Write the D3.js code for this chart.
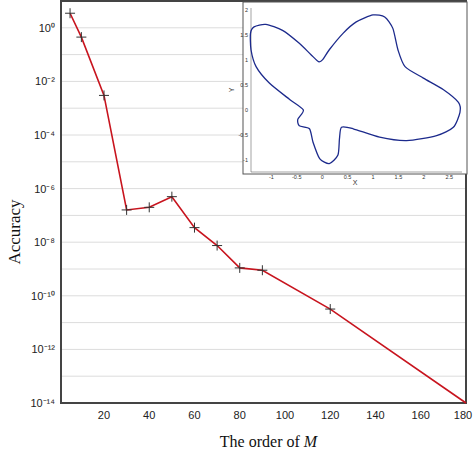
<!DOCTYPE html>
<html><head><meta charset="utf-8">
<script src="https://cdn.jsdelivr.net/npm/d3@7"></script>
<style>body{margin:0;background:#fff}</style>
</head><body>
<svg id="c" width="474" height="453"></svg>
<script>
// main curve
const orders = [5, 10, 20, 30, 40, 50, 60, 70, 80, 90, 120, 180];
const accuracy = [3.5, 0.45, 3e-3, 1.6e-7, 2e-7, 5e-7, 3.5e-8, 7.5e-9, 1.1e-9, 9e-10, 3.2e-11, 1e-14];
const marked = [5, 10, 20, 30, 40, 50, 60, 70, 80, 90, 120];
const xTicks = [20, 40, 60, 80, 100, 120, 140, 160, 180];
const yTickExp = [0, -2, -4, -6, -8, -10, -12, -14];

// inset boundary shape
const shapeX = [-1.41,-1.34,-1.11,-0.78,-0.45,-0.22,-0.07,0.01,0.14,0.41,0.67,1.0,1.23,1.39,1.49,1.63,1.99,2.38,2.68,2.71,2.58,2.25,1.66,1.13,0.61,0.38,0.34,0.31,0.14,-0.05,-0.18,-0.25,-0.45,-0.48,-0.37,-0.64,-1.04,-1.30,-1.40];
const shapeY = [1.54,1.67,1.72,1.60,1.34,1.11,0.97,1.01,1.21,1.54,1.77,1.91,1.87,1.64,1.21,0.87,0.64,0.41,0.15,-0.05,-0.35,-0.52,-0.62,-0.55,-0.38,-0.35,-0.58,-0.91,-1.08,-0.98,-0.65,-0.38,-0.32,-0.19,0.0,0.21,0.54,0.87,1.21];
const insetXTicks = [-1, -0.5, 0, 0.5, 1, 1.5, 2, 2.5];
const insetYTicks = [-1, -0.5, 0, 0.5, 1, 1.5, 2];

const svg = d3.select("#c");
const L = 61, R = 466, T = 1, B = 403;
const x = d3.scaleLinear().domain([1, 180]).range([L, R]);
const y = d3.scaleLog().domain([1e-14, 10]).range([B, T]);

// grid
svg.append("g").selectAll("line").data(d3.range(-14, 1)).join("line")
  .attr("x1", L).attr("x2", R)
  .attr("y1", d => y(Math.pow(10, d))).attr("y2", d => y(Math.pow(10, d)))
  .attr("stroke", "#dcdcdc").attr("stroke-width", 1);

const sup = "⁰¹²³⁴⁵⁶⁷⁸⁹";
const supNum = e => (e < 0 ? "⁻" : "") + String(Math.abs(e)).split("").map(c => sup[+c]).join("");

svg.append("g").selectAll("text").data(yTickExp).join("text")
  .attr("x", L - 6).attr("y", d => y(Math.pow(10, d)) + 4)
  .attr("text-anchor", "end").attr("font-family", "Liberation Sans, Arial").attr("font-size", 11)
  .attr("fill", "#222").text(d => "10" + supNum(d));

svg.append("g").selectAll("text").data(xTicks).join("text")
  .attr("x", d => Math.min(x(d), 473 - 10)).attr("y", B + 16)
  .attr("text-anchor", "middle").attr("font-family", "Liberation Sans, Arial").attr("font-size", 11)
  .attr("fill", "#222").text(d => d);

// frame
svg.append("rect").attr("x", L).attr("y", T).attr("width", R - L).attr("height", B - T)
  .attr("fill", "none").attr("stroke", "#444").attr("stroke-width", 2);

// curve
const pts = orders.map((o, i) => [x(o), y(accuracy[i])]);
svg.append("path").attr("d", d3.line()(pts)).attr("fill", "none")
  .attr("stroke", "#c8141e").attr("stroke-width", 1.6);
svg.append("g").selectAll("path").data(marked).join("path")
  .attr("d", d => { const px = x(d), py = y(accuracy[orders.indexOf(d)]);
    return `M${px-5},${py}H${px+5}M${px},${py-5}V${py+5}`; })
  .attr("stroke", "#333").attr("stroke-width", 1);

// axis titles
svg.append("text").attr("transform", `translate(20,${(T + B) / 2 + 30}) rotate(-90)`)
  .attr("text-anchor", "middle").attr("font-family", "Liberation Serif, Times New Roman").attr("font-size", 17)
  .attr("fill", "#111").text("Accuracy");
const xt = svg.append("text").attr("x", (L + R) / 2 + 5).attr("y", 447).attr("text-anchor", "middle")
  .attr("font-family", "Liberation Serif, Times New Roman").attr("font-size", 16).attr("fill", "#111");
xt.append("tspan").text("The order of ");
xt.append("tspan").attr("font-style", "italic").text("M");

// inset
svg.append("rect").attr("x", 243).attr("y", 2).attr("width", 224).attr("height", 172)
  .attr("fill", "#fff").attr("stroke", "#555").attr("stroke-width", 1);
const ix = d3.scaleLinear().domain([-1.4, 2.75]).range([251, 462]);
const iy = d3.scaleLinear().domain([-1.25, 2.05]).range([172, 8]);
const ig = svg.append("g");
ig.append("line").attr("x1", 251).attr("x2", 462).attr("y1", 172).attr("y2", 172).attr("stroke", "#666").attr("stroke-width", 0.6);
ig.append("line").attr("x1", 251).attr("x2", 251).attr("y1", 8).attr("y2", 172).attr("stroke", "#666").attr("stroke-width", 0.6);
ig.selectAll(".xt").data(insetXTicks).join("text").attr("class", "xt")
  .attr("x", d => ix(d)).attr("y", 179).attr("text-anchor", "middle")
  .attr("font-family", "Liberation Sans, Arial").attr("font-size", 5.5).attr("fill", "#333").text(d => d);
ig.selectAll(".yt").data(insetYTicks).join("text").attr("class", "yt")
  .attr("x", 248).attr("y", d => iy(d) + 2).attr("text-anchor", "end")
  .attr("font-family", "Liberation Sans, Arial").attr("font-size", 5.5).attr("fill", "#333").text(d => d);
ig.append("text").attr("x", 355).attr("y", 185).attr("text-anchor", "middle")
  .attr("font-family", "Liberation Sans, Arial").attr("font-size", 7).attr("fill", "#333").text("X");
ig.append("text").attr("transform", "translate(234,90) rotate(-90)").attr("text-anchor", "middle")
  .attr("font-family", "Liberation Sans, Arial").attr("font-size", 7).attr("fill", "#333").text("Y");
ig.append("path")
  .attr("d", d3.line().curve(d3.curveCardinalClosed.tension(0.3))(shapeX.map((v, i) => [ix(v), iy(shapeY[i])])))
  .attr("fill", "none").attr("stroke", "#1c2a8c").attr("stroke-width", 1.3);
</script>
</body></html>
